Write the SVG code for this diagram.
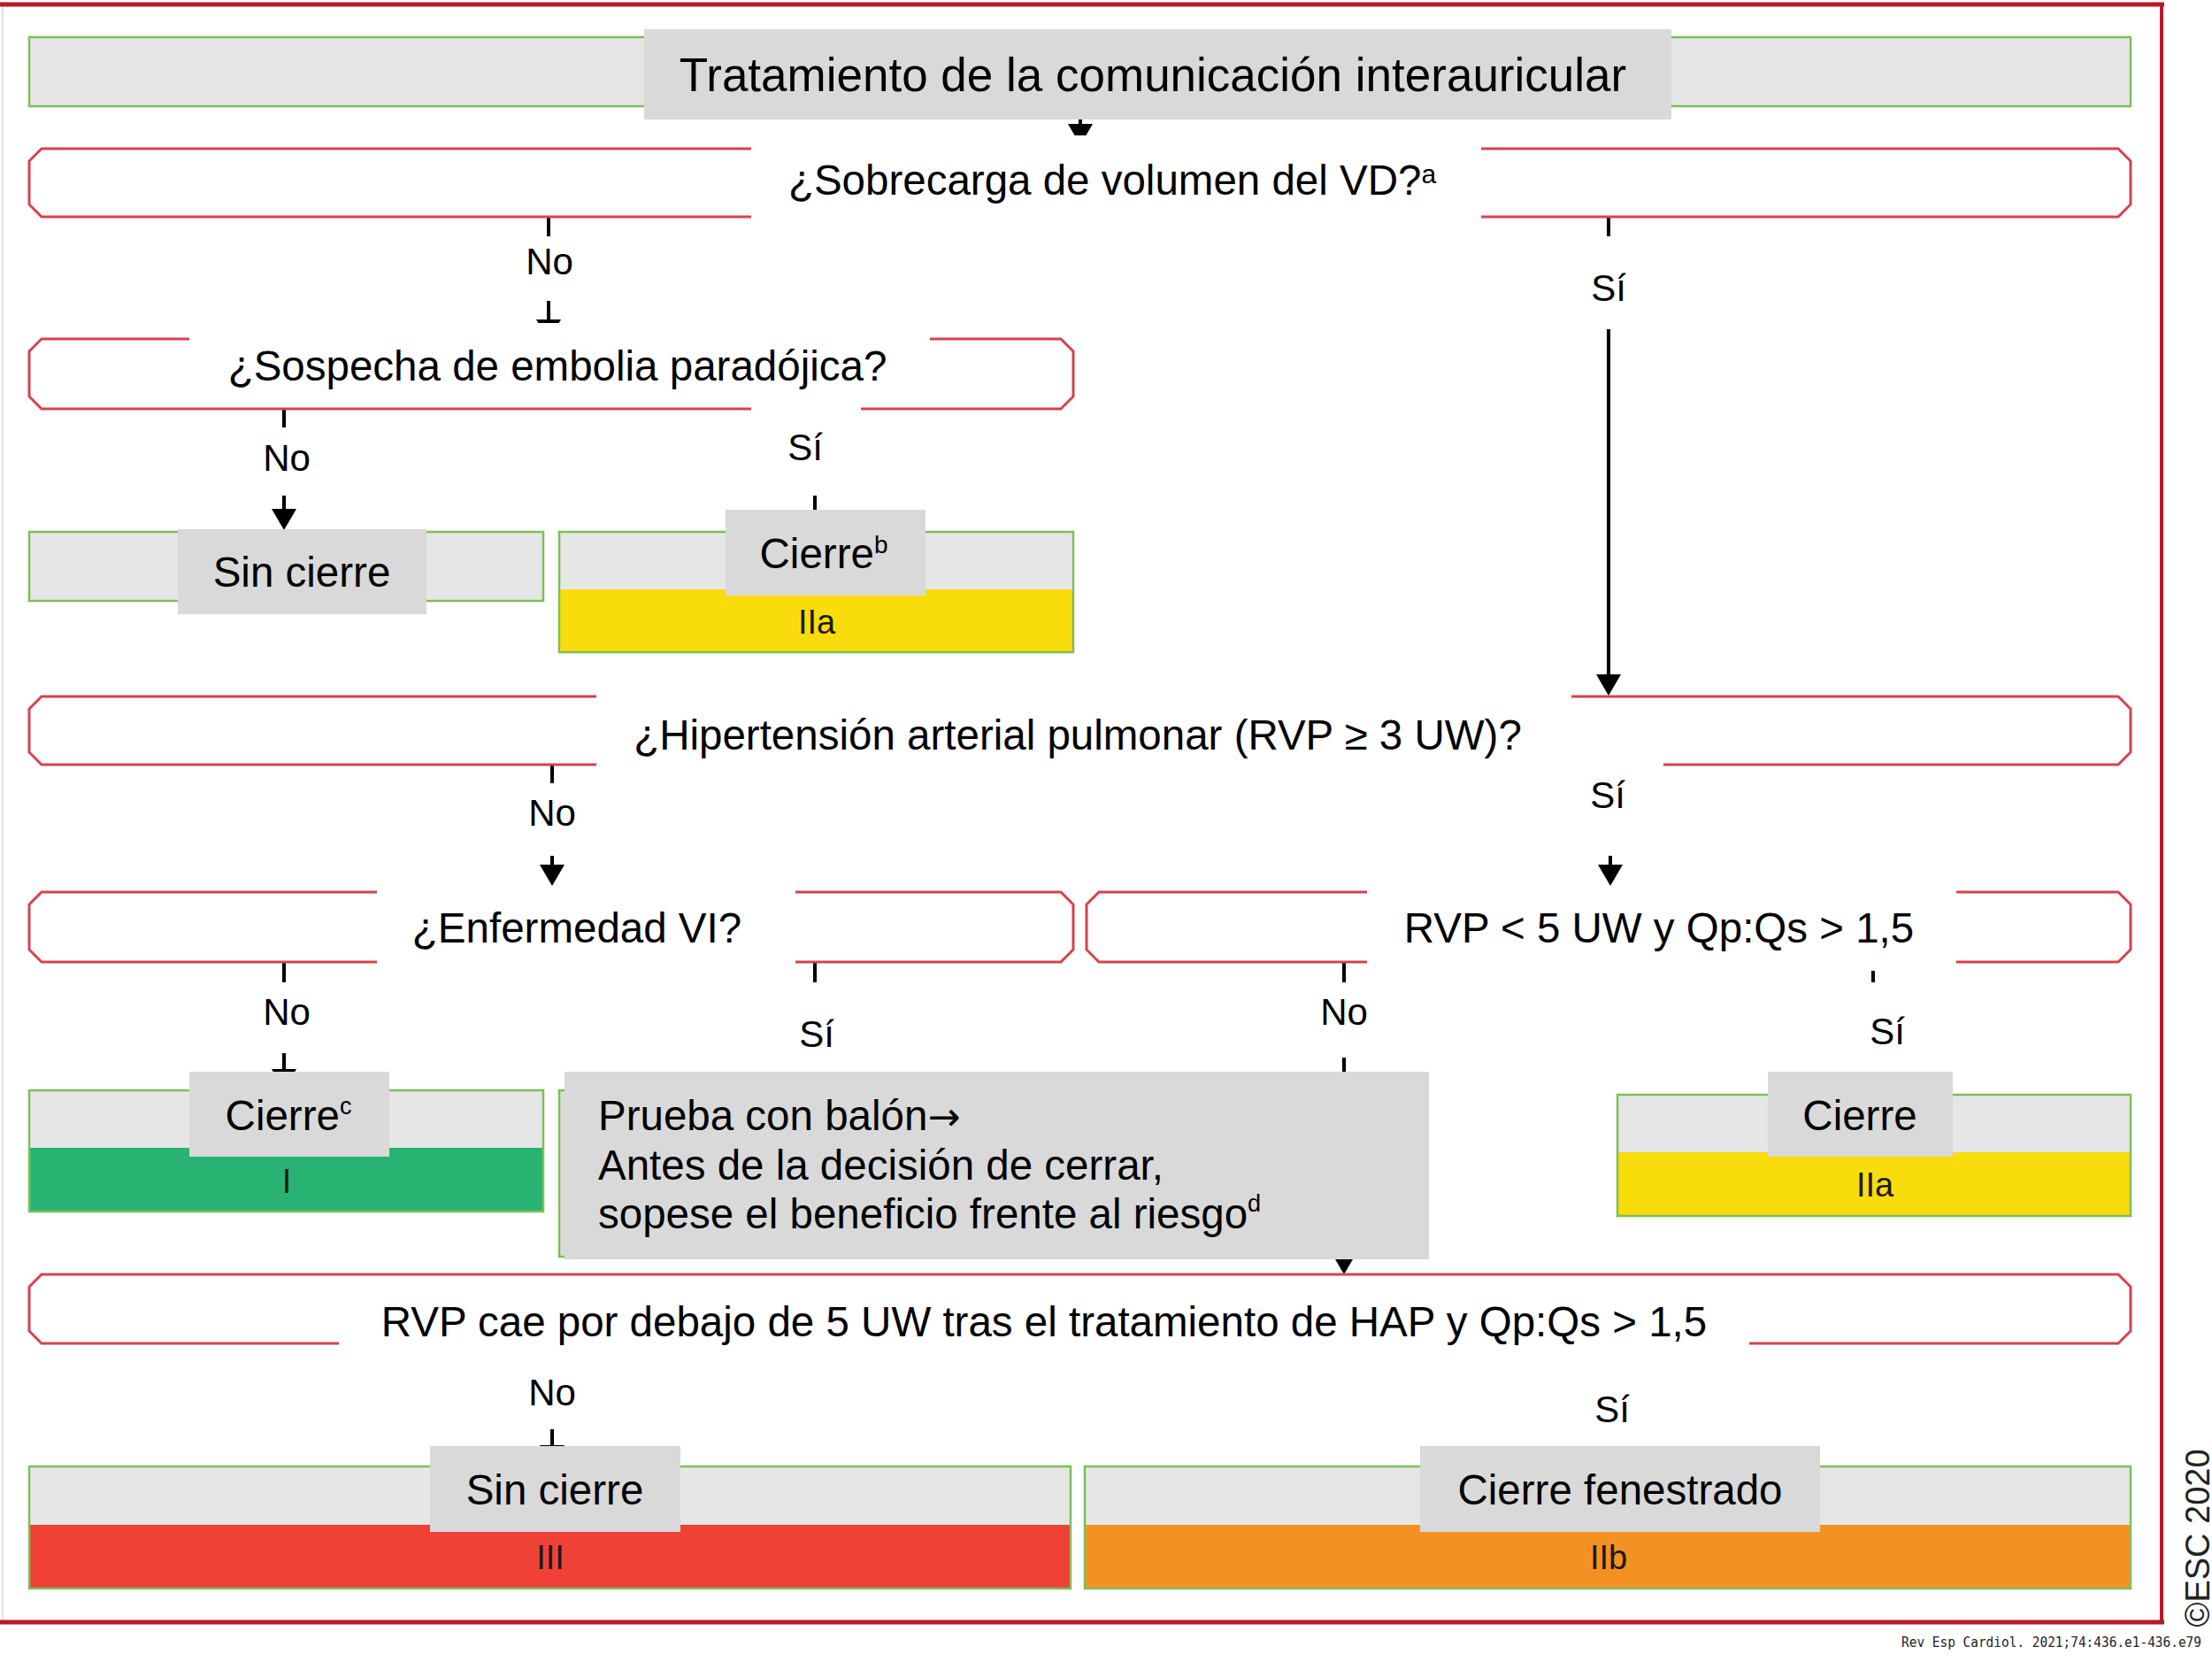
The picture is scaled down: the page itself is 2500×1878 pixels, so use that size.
<svg xmlns="http://www.w3.org/2000/svg" width="2500" height="1878" viewBox="0 0 2500 1878">
<style>
  text { font-family: "Liberation Sans", Arial, sans-serif; fill: #000; }
  .title { font-size: 53px; text-anchor: middle; }
  .q { font-size: 47.5px; text-anchor: middle; }
  .t { font-size: 47.5px; text-anchor: middle; }
  .lbl { font-size: 42px; text-anchor: middle; }
  .cls { font-size: 38px; text-anchor: middle; fill: #1a1a1a; }
  .dec { fill: #fff; stroke: #d6424f; stroke-width: 3; }
  .wbg { fill: #fff; stroke: none; }
  .box { fill: #e6e6e6; stroke: none; }
  .outline { fill: none; stroke: #7dbf5a; stroke-width: 2.5; }
  .lab { fill: #d9d9d9; stroke: none; }
  .conn { stroke: #000; stroke-width: 4; fill: none; marker-end: url(#ah); }
</style>
<defs>
  <marker id="ah" markerUnits="userSpaceOnUse" markerWidth="26" markerHeight="30" refX="0" refY="14" orient="auto" viewBox="0 0 26 28" overflow="visible">
    <path d="M0,0 L24,14 L0,28 Z" fill="#000"/>
  </marker>
</defs>
<rect x="0" y="0" width="2500" height="1878" fill="#fff"/>

<!-- frame -->
<g id="frame">
  <line x1="3" y1="6" x2="3" y2="1832" stroke="#e2e2e2" stroke-width="2"/>
  <line x1="0" y1="5" x2="2446" y2="5" stroke="#b8182c" stroke-width="5"/>
  <line x1="2443" y1="3" x2="2443" y2="1835" stroke="#b8182c" stroke-width="4"/>
  <line x1="0" y1="1833" x2="2446" y2="1833" stroke="#b8182c" stroke-width="5"/>
</g>

<!-- connectors -->
<g id="connectors">
  <line class="conn" x1="1221" y1="120" x2="1221" y2="140"/>
  <line class="conn" x1="620" y1="245" x2="620" y2="361"/>
  <line class="conn" x1="1818" y1="245" x2="1818" y2="762"/>
  <line class="conn" x1="321" y1="462" x2="321" y2="575"/>
  <line class="conn" x1="921" y1="462" x2="921" y2="577"/>
  <line class="conn" x1="624" y1="864" x2="624" y2="977"/>
  <line class="conn" x1="1820" y1="864" x2="1820" y2="977"/>
  <line class="conn" x1="321" y1="1087" x2="321" y2="1208"/>
  <line class="conn" x1="921" y1="1087" x2="921" y2="1214"/>
  <line class="conn" x1="1519" y1="1087" x2="1519" y2="1214"/>
  <line class="conn" x1="2117" y1="1087" x2="2117" y2="1213"/>
  <line class="conn" x1="1519" y1="1400" x2="1519" y2="1416"/>
  <line class="conn" x1="624" y1="1518" x2="624" y2="1633"/>
  <line class="conn" x1="1822" y1="1518" x2="1822" y2="1636"/>
</g>

<!-- nodes -->
<g id="n-title">
  <rect class="box" x="33" y="42" width="2375" height="78"/>
  <rect class="outline" x="33" y="42" width="2375" height="78"/>
  <rect class="lab" x="728" y="33" width="1161" height="102"/>
  <text class="title" x="1303" y="103">Tratamiento de la comunicación interauricular</text>
</g>

<g id="n-sobrecarga">
  <path class="dec" d="M47,168 H2394 L2408,182 V231 L2394,245 H47 L33,231 V182 Z"/>
  <rect class="wbg" x="849" y="153" width="825" height="97"/>
  <text class="q" x="1257" y="220">¿Sobrecarga de volumen del VD?<tspan font-size="30" dy="-13">a</tspan></text>
</g>

<g id="n-sospecha">
  <path class="dec" d="M47,383 H1199 L1213,397 V448 L1199,462 H47 L33,448 V397 Z"/>
  <rect class="wbg" x="214" y="365" width="837" height="83"/>
  <text class="q" x="630" y="430">¿Sospecha de embolia paradójica?</text>
</g>

<g id="n-sincierre1">
  <rect class="box" x="33" y="601" width="581" height="78"/>
  <rect class="outline" x="33" y="601" width="581" height="78"/>
  <rect class="lab" x="201" y="598" width="281" height="96"/>
  <text class="t" x="341" y="663">Sin cierre</text>
</g>

<g id="n-cierreb">
  <rect class="box" x="632" y="601" width="581" height="65"/>
  <rect x="632" y="666" width="581" height="71" fill="#f9dc0c"/>
  <rect class="outline" x="632" y="601" width="581" height="136"/>
  <rect class="lab" x="820" y="576" width="226" height="97"/>
  <text class="t" x="931" y="642">Cierre<tspan font-size="28" dy="-17">b</tspan></text>
  <text class="cls" x="923" y="716">IIa</text>
</g>

<g id="n-hipertension">
  <path class="dec" d="M47,787 H2394 L2408,801 V850 L2394,864 H47 L33,850 V801 Z"/>
  <rect class="wbg" x="674" y="780" width="1102" height="90"/>
  <text class="q" x="1218" y="847">¿Hipertensión arterial pulmonar (RVP ≥ 3 UW)?</text>
</g>

<g id="n-enfermedad">
  <path class="dec" d="M47,1008 H1199 L1213,1022 V1073 L1199,1087 H47 L33,1073 V1022 Z"/>
  <rect class="wbg" x="426" y="1003" width="473" height="89"/>
  <text class="q" x="652" y="1065">¿Enfermedad VI?</text>
</g>

<g id="n-rvp5">
  <path class="dec" d="M1242,1008 H2394 L2408,1022 V1073 L2394,1087 H1242 L1228,1073 V1022 Z"/>
  <rect class="wbg" x="1545" y="1003" width="666" height="94"/>
  <text class="q" x="1875" y="1065">RVP &lt; 5 UW y Qp:Qs &gt; 1,5</text>
</g>

<g id="n-cierrec">
  <rect class="box" x="33" y="1232" width="581" height="65"/>
  <rect x="33" y="1297" width="581" height="72" fill="#28b373"/>
  <rect class="outline" x="33" y="1232" width="581" height="137"/>
  <rect class="lab" x="214" y="1211" width="226" height="96"/>
  <text class="t" x="326" y="1277">Cierre<tspan font-size="27" dy="-18">c</tspan></text>
  <text class="cls" x="324" y="1348">I</text>
</g>

<g id="n-balon">
  <rect class="lab" x="632" y="1232" width="980" height="188"/>
  <rect class="outline" x="632" y="1232" width="980" height="188"/>
  <rect class="lab" x="638" y="1211" width="977" height="212"/>
  <text class="t" style="text-anchor:start" x="676" y="1277">Prueba con balón<tspan style="font-family:'DejaVu Sans',sans-serif" font-size="44">→</tspan></text>
  <text class="t" style="text-anchor:start" x="676" y="1333">Antes de la decisión de cerrar,</text>
  <text class="t" style="text-anchor:start" x="676" y="1388">sopese el beneficio frente al riesgo<tspan font-size="27" dy="-19">d</tspan></text>
</g>

<g id="n-cierre2">
  <rect class="box" x="1828" y="1237" width="580" height="65"/>
  <rect x="1828" y="1302" width="580" height="72" fill="#f9dc0c"/>
  <rect class="outline" x="1828" y="1237" width="580" height="137"/>
  <rect class="lab" x="1998" y="1211" width="209" height="96"/>
  <text class="t" x="2102" y="1277">Cierre</text>
  <text class="cls" x="2119" y="1352">IIa</text>
</g>

<g id="n-rvpcae">
  <path class="dec" d="M47,1440 H2394 L2408,1454 V1504 L2394,1518 H47 L33,1504 V1454 Z"/>
  <rect class="wbg" x="383" y="1450" width="1594" height="75"/>
  <text class="q" x="1180" y="1510">RVP cae por debajo de 5 UW tras el tratamiento de HAP y Qp:Qs &gt; 1,5</text>
</g>

<g id="n-sincierre2">
  <rect class="box" x="33" y="1657" width="1177" height="66"/>
  <rect x="33" y="1723" width="1177" height="72" fill="#ef4136"/>
  <rect class="outline" x="33" y="1657" width="1177" height="138"/>
  <rect class="lab" x="486" y="1634" width="283" height="97"/>
  <text class="t" x="627" y="1700">Sin cierre</text>
  <text class="cls" x="622" y="1773">III</text>
</g>

<g id="n-fenestrado">
  <rect class="box" x="1226" y="1657" width="1182" height="66"/>
  <rect x="1226" y="1723" width="1182" height="72" fill="#f39222"/>
  <rect class="outline" x="1226" y="1657" width="1182" height="138"/>
  <rect class="lab" x="1605" y="1634" width="452" height="97"/>
  <text class="t" x="1831" y="1700">Cierre fenestrado</text>
  <text class="cls" x="1818" y="1773">IIb</text>
</g>

<!-- connector labels -->
<g id="connector-labels">
  <rect class="wbg" x="585" y="267" width="70" height="73"/>
  <text class="lbl" x="621" y="310">No</text>
  <rect class="wbg" x="1783" y="267" width="70" height="105"/>
  <text class="lbl" x="1818" y="340">Sí</text>
  <rect class="wbg" x="289" y="483" width="70" height="77"/>
  <text class="lbl" x="324" y="532">No</text>
  <rect class="wbg" x="849" y="455" width="124" height="105"/>
  <text class="lbl" x="910" y="520">Sí</text>
  <rect class="wbg" x="589" y="885" width="70" height="82"/>
  <text class="lbl" x="624" y="933">No</text>
  <rect class="wbg" x="1756" y="855" width="124" height="112"/>
  <text class="lbl" x="1817" y="913">Sí</text>
  <rect class="wbg" x="289" y="1110" width="70" height="80"/>
  <text class="lbl" x="324" y="1158">No</text>
  <rect class="wbg" x="888" y="1110" width="70" height="101"/>
  <text class="lbl" x="923" y="1183">Sí</text>
  <rect class="wbg" x="1484" y="1110" width="70" height="85"/>
  <text class="lbl" x="1519" y="1158">No</text>
  <rect class="wbg" x="2090" y="1110" width="75" height="101"/>
  <text class="lbl" x="2133" y="1180">Sí</text>
  <rect class="wbg" x="589" y="1525" width="70" height="90"/>
  <text class="lbl" x="624" y="1588">No</text>
  <rect class="wbg" x="1787" y="1525" width="70" height="109"/>
  <text class="lbl" x="1822" y="1607">Sí</text>
</g>

<text x="0" y="0" transform="translate(2497,1738) rotate(-90)" style="font-size:38px;text-anchor:middle;fill:#222">©ESC 2020</text>
<text x="2149" y="1861" textLength="339" lengthAdjust="spacingAndGlyphs" style="font-family:'DejaVu Sans Mono','Liberation Mono',monospace;font-size:15px;fill:#222">Rev Esp Cardiol. 2021;74:436.e1-436.e79</text>
</svg>
